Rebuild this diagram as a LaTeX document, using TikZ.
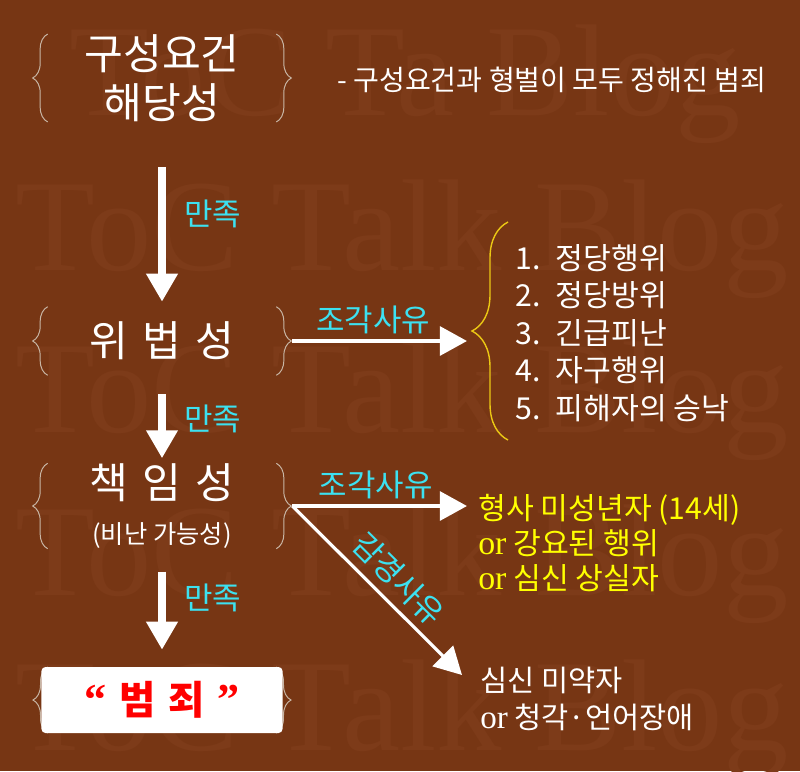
\documentclass[tikz,border=0pt]{standalone}
\usepackage{fontspec}
\setmainfont{Noto Sans CJK KR}
\newfontfamily\latn[Scale=1.12]{Liberation Serif}
\usepackage{tikz}
\usetikzlibrary{arrows.meta,decorations.pathreplacing,positioning}
\definecolor{bgbrown}{RGB}{119,54,20}
\definecolor{wmbrown}{RGB}{125,59,25}
\definecolor{labcyan}{RGB}{60,225,240}
\definecolor{bracegray}{RGB}{200,182,165}
\definecolor{braceyellow}{RGB}{235,200,20}
\definecolor{txtyellow}{RGB}{255,255,0}

\begin{document}
\begin{tikzpicture}[x=0.025cm, y=-0.025cm,
        every node/.style = {text=white, inner sep=0pt},
        stage/.style = {minimum width=5.7cm, minimum height=1.7cm,
                        align=center, font=\fontsize{30}{35}\selectfont},
        gbrace/.style = {draw=bracegray, line width=0.7pt, decorate,
                         decoration={brace, amplitude=0.375cm}},
        ybrace/.style = {draw=braceyellow, line width=1pt, decorate,
                         decoration={brace, amplitude=0.9cm}},
        down/.style = {draw=white, line width=0.2cm,
                       -{Triangle[width=0.75cm, length=0.7cm]}},
        side/.style = {draw=white, line width=0.1cm,
                       -{Triangle[width=0.72cm, length=0.68cm]}},
        cond/.style = {text=labcyan, font=\fontsize{22}{26}\selectfont},
        body/.style = {anchor=west, align=left}]
        \fill[bgbrown] (0,0) rectangle (800,771);
        \useasboundingbox (0,0) rectangle (800,771);
        \begin{scope}
                \clip (0,0) rectangle (800,771);
                \foreach \wx/\wy/\wtext in {69/115/ToC Ta Blog, 15/270/ToC Talk Blog,
                                            15/432/ToC Talk Blog, 15/595/ToC Talk Blog,
                                            15/750/ToC Talk Blog}
                        \node[anchor=base west, text=wmbrown,
                              font=\latn\fontsize{83}{83}\selectfont]
                              (wm\wy) at (\wx,\wy) {\wtext};
        \end{scope}

        \node[stage] (req) at (162,78) {구성요건\\해당성};
        \node[stage] (ill) at (162,341) {위\,\,법\,\,성};
        \node[stage] (resp) at (162,506)
                {책\,\,임\,\,성\\[-3pt]{\fontsize{18}{22}\selectfont (비난 가능성)}};
        \node[anchor=west, font=\fontsize{20}{24}\selectfont] (note) at (337,80)
                {- 구성요건과 형벌이 모두 정해진 범죄};

        \draw[gbrace] (req.south west) -- (req.north west);
        \draw[gbrace] (req.north east) -- (req.south east);
        \draw[gbrace] (ill.south west) -- (ill.north west);
        \draw[gbrace] (ill.north east) -- (ill.south east);
        \draw[gbrace] (resp.south west) -- (resp.north west);
        \draw[gbrace] (resp.north east) -- (resp.south east);
        \draw[gbrace] (48,733) -- (48,667);
        \draw[gbrace] (276,667) -- (276,733);
        \node[minimum width=6.025cm, minimum height=1.65cm, fill=white,
              rounded corners=0.1cm, text=red,
              font=\bfseries\fontsize{28}{32}\selectfont] (crime) at (162,700)
                {{\latn “}\,\,범\,\,죄\,\,{\latn ”}};

        \coordinate (illtip) at ([xshift=0.4cm]ill.east);
        \coordinate (resptip) at ([xshift=0.4cm]resp.east);
        \coordinate (jtip) at (472,331);
        \coordinate (weakin) at (462,675);

        \draw[ybrace] (508,440) -- (508,222);
        \node[body, font=\fontsize{21.5}{26.7}\selectfont] (cases) at (515,333)
                {1.\hspace{0.5em}정당행위\\2.\hspace{0.5em}정당방위\\3.\hspace{0.5em}긴급피난\\
                 4.\hspace{0.5em}자구행위\\5.\hspace{0.5em}피해자의 승낙};
        \node[body, text=txtyellow, font=\fontsize{21.5}{24.6}\selectfont] (youth) at (478,543)
                {형사 미성년자 (14세)\\{\latn or} 강요된 행위\\{\latn or} 심신 상실자};
        \node[body, font=\fontsize{21}{26.3}\selectfont] (weak) at (480,699)
                {심신 미약자\\{\latn or} 청각·언어장애};

        \draw[down, shorten <=1.125cm, shorten >=0.125cm] (req.south) -- (ill.north)
                node[cond, midway, right=0.45cm] (ok1) {만족};
        \draw[down, shorten <=0.475cm, shorten >=0.125cm] (ill.south) -- (resp.north)
                node[cond, midway, right=0.45cm] (ok2) {만족};
        \draw[down, shorten <=0.575cm, shorten >=0.425cm] (resp.south) -- (crime.north)
                node[cond, pos=0.42, right=0.45cm] (ok3) {만족};

        \draw[side, shorten >=0.125cm] (illtip) -- (illtip -| jtip)
                node[cond, pos=0.45, above=0.12cm] (just1) {조각사유};
        \draw[side, shorten >=0.275cm] (resptip) -- (resptip -| youth.west)
                node[cond, pos=0.45, above=0.12cm] (just2) {조각사유};
        \draw[draw=white, line width=0.08cm, -{Triangle[width=0.72cm, length=0.68cm]}]
                (resptip) -- (weakin)
                node[cond, pos=0.53, sloped, above=0.2cm] (mitig) {감경사유};
\end{tikzpicture}
\end{document}
